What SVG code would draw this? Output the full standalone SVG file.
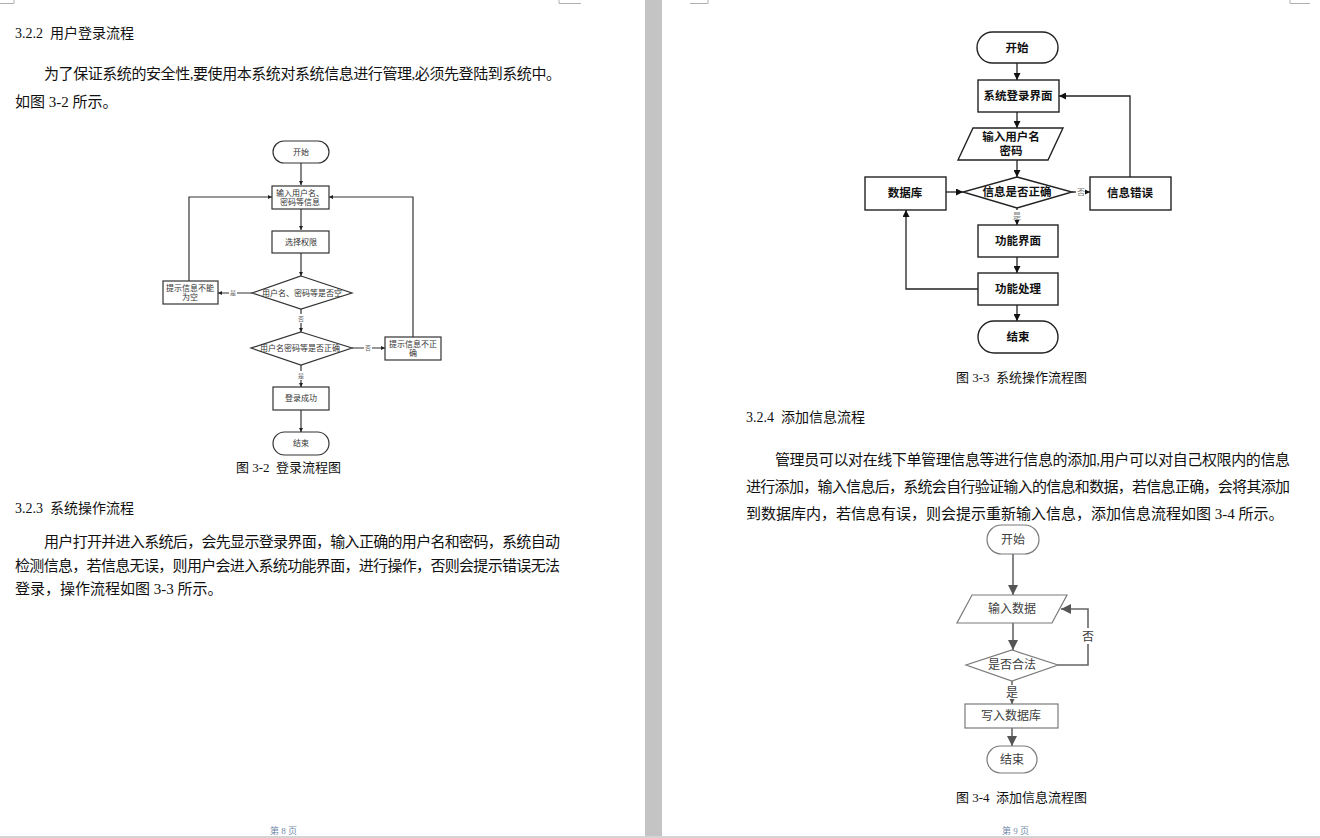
<svg xmlns="http://www.w3.org/2000/svg" width="1320" height="838" viewBox="0 0 1320 838">
<style>
text{font-family:"Liberation Serif","Noto Sans CJK SC",serif;}
.body{font-size:15px;fill:#111;}
.h{font-size:14px;fill:#111;}
.cap{font-size:13px;fill:#111;}
.a{fill:#fff;stroke:#333;stroke-width:1.2;}
.at{font-size:8px;fill:#333;text-anchor:middle;}
.al{font-size:6px;fill:#666;text-anchor:middle;}
.b{fill:#fff;stroke:#222;stroke-width:1.4;}
.bt{font-size:11.5px;font-weight:bold;fill:#111;text-anchor:middle;}
.bl{font-size:8px;fill:#777;text-anchor:middle;}
.c{fill:#fff;stroke:#7a7a7a;stroke-width:1.2;}
.ct{font-size:12px;fill:#404040;text-anchor:middle;}
.ca{fill:none;stroke:#333;stroke-width:1.2;}
.cb{fill:none;stroke:#222;stroke-width:1.3;}
.cc{fill:none;stroke:#666;stroke-width:1.6;}
.pn{font-size:9px;fill:#7088a8;}
</style>
<defs>
<marker id="ma" viewBox="0 0 10 10" refX="10" refY="5" markerWidth="4" markerHeight="4" markerUnits="userSpaceOnUse" orient="auto"><path d="M0,0L10,5L0,10z" fill="#222"/></marker>
<marker id="mb" viewBox="0 0 10 10" refX="10" refY="5" markerWidth="7" markerHeight="7" markerUnits="userSpaceOnUse" orient="auto"><path d="M0,0L10,5L0,10z" fill="#111"/></marker>
<marker id="mc" viewBox="0 0 10 10" refX="10" refY="5" markerWidth="10" markerHeight="10" markerUnits="userSpaceOnUse" orient="auto"><path d="M0,0L10,5L0,10z" fill="#555"/></marker>
</defs>
<rect x="0" y="0" width="1320" height="838" fill="#fff"/>
<rect x="645" y="0" width="17" height="838" fill="#c4c4c4"/>
<g id="corner-marks" stroke="#b0b0b0" stroke-width="1" fill="none">
<path d="M0,3.5H14V0"/>
<path d="M559,0V3.5H581"/>
<path d="M690,3.5H708V0"/>
<path d="M1290,0V3.5H1310"/>
</g>
<g id="left-text">
<text class="h" x="15" y="38" xml:space="preserve">3.2.2  用户登录流程</text>
<text class="body" x="44" y="79" textLength="517" lengthAdjust="spacing">为了保证系统的安全性,要使用本系统对系统信息进行管理,必须先登陆到系统中。</text>
<text class="body" x="15" y="107">如图 3-2 所示。</text>
<text class="cap" x="236" y="472" xml:space="preserve">图 3-2  登录流程图</text>
<text class="h" x="15" y="513" xml:space="preserve">3.2.3  系统操作流程</text>
<text class="body" x="44" y="547" textLength="516" lengthAdjust="spacing">用户打开并进入系统后，会先显示登录界面，输入正确的用户名和密码，系统自动</text>
<text class="body" x="15" y="571" textLength="545" lengthAdjust="spacing">检测信息，若信息无误，则用户会进入系统功能界面，进行操作，否则会提示错误无法</text>
<text class="body" x="15" y="594">登录，操作流程如图 3-3 所示。</text>
</g>
<g id="right-text">
<text class="cap" x="956" y="382" xml:space="preserve">图 3-3  系统操作流程图</text>
<text class="h" x="746" y="422" xml:space="preserve">3.2.4  添加信息流程</text>
<text class="body" x="775" y="465" textLength="515" lengthAdjust="spacing">管理员可以对在线下单管理信息等进行信息的添加,用户可以对自己权限内的信息</text>
<text class="body" x="746" y="492" textLength="544" lengthAdjust="spacing">进行添加，输入信息后，系统会自行验证输入的信息和数据，若信息正确，会将其添加</text>
<text class="body" x="746" y="519">到数据库内，若信息有误，则会提示重新输入信息，添加信息流程如图 3-4 所示。</text>
<text class="cap" x="956" y="802" xml:space="preserve">图 3-4  添加信息流程图</text>
</g>
<g id="connectors">
<path class="ca" d="M301,163V185" marker-end="url(#ma)"/>
<path class="ca" d="M301,209V230" marker-end="url(#ma)"/>
<path class="ca" d="M301,253V276" marker-end="url(#ma)"/>
<path class="ca" d="M252,293H218" marker-end="url(#ma)"/>
<path class="ca" d="M301,309V332" marker-end="url(#ma)"/>
<path class="ca" d="M352,348H385" marker-end="url(#ma)"/>
<path class="ca" d="M301,365V387" marker-end="url(#ma)"/>
<path class="ca" d="M301,410V432" marker-end="url(#ma)"/>
<path class="ca" d="M189,281V197H272" marker-end="url(#ma)"/>
<path class="ca" d="M413,337V197H329" marker-end="url(#ma)"/>
<path class="cb" d="M1017,63V80" marker-end="url(#mb)"/>
<path class="cb" d="M1017,112V128" marker-end="url(#mb)"/>
<path class="cb" d="M1017,160V177" marker-end="url(#mb)"/>
<path class="cb" d="M946,192H963" marker-end="url(#mb)"/>
<path class="cb" d="M1072,192H1090" marker-end="url(#mb)"/>
<path class="cb" d="M1130,177V96H1059" marker-end="url(#mb)"/>
<path class="cb" d="M1017,208V225" marker-end="url(#mb)"/>
<path class="cb" d="M1017,257V273" marker-end="url(#mb)"/>
<path class="cb" d="M1017,305V321" marker-end="url(#mb)"/>
<path class="cb" d="M978,289H906V210" marker-end="url(#mb)"/>
<path class="cc" d="M1013,553V595" marker-end="url(#mc)"/>
<path class="cc" d="M1013,623V650" marker-end="url(#mc)"/>
<path class="cc" d="M1058,665H1088V609H1061" marker-end="url(#mc)"/>
<path class="cc" d="M1012,681V704" marker-end="url(#mc)"/>
<path class="cc" d="M1012,728V746" marker-end="url(#mc)"/>
<g id="edge-labels">
<rect x="229" y="288" width="8" height="9" fill="#fff"/><text class="al" x="233" y="295">是</text>
<rect x="297" y="314" width="8" height="9" fill="#fff"/><text class="al" x="301" y="321">否</text>
<rect x="364" y="343" width="8" height="9" fill="#fff"/><text class="al" x="368" y="350">否</text>
<rect x="297" y="371" width="8" height="9" fill="#fff"/><text class="al" x="301" y="378">是</text>
<rect x="1076" y="187" width="9" height="10" fill="#fff"/><text class="bl" x="1081" y="195">否</text>
<rect x="1012" y="210" width="10" height="10" fill="#fff"/><text class="bl" x="1017" y="219">是</text>
<rect x="1081" y="628" width="14" height="16" fill="#fff"/><text class="ct" x="1088" y="641">否</text>
<rect x="1005" y="685" width="14" height="14" fill="#fff"/><text class="ct" x="1012" y="697">是</text>
</g>
</g>
<g id="f32-start"><rect class="a" x="273" y="141" width="56" height="22" rx="11"/><text class="at" x="301" y="155">开始</text></g>
<g id="f32-input"><rect class="a" x="272" y="186" width="57" height="23"/><text class="at" x="300" y="196">输入用户名、</text><text class="at" x="300" y="205">密码等信息</text></g>
<g id="f32-role"><rect class="a" x="272" y="231" width="57" height="22"/><text class="at" x="301" y="245">选择权限</text></g>
<g id="f32-empty"><path class="a" d="M301,276L352,293L301,309L252,293z"/><text class="at" x="302" y="296">用户名、密码等是否空</text></g>
<g id="f32-correct"><path class="a" d="M301,332L352,348L301,365L251,348z"/><text class="at" x="300" y="351">用户名密码等是否正确</text></g>
<g id="f32-msg-empty"><rect class="a" x="163" y="281" width="55" height="23"/><text class="at" x="190" y="291">提示信息不能</text><text class="at" x="190" y="300">为空</text></g>
<g id="f32-msg-wrong"><rect class="a" x="385" y="337" width="56" height="23"/><text class="at" x="413" y="347">提示信息不正</text><text class="at" x="413" y="356">确</text></g>
<g id="f32-ok"><rect class="a" x="273" y="387" width="56" height="23"/><text class="at" x="301" y="401">登录成功</text></g>
<g id="f32-end"><rect class="a" x="273" y="432" width="56" height="23" rx="11.5"/><text class="at" x="301" y="446">结束</text></g>
<g id="f33-start"><rect class="b" x="977" y="32" width="81" height="31" rx="15.5"/><text class="bt" x="1017" y="52">开始</text></g>
<g id="f33-login"><rect class="b" x="978" y="80" width="81" height="32"/><text class="bt" x="1018" y="100">系统登录界面</text></g>
<g id="f33-input"><path class="b" d="M973,128H1063L1048,160H958z"/><text class="bt" x="1011" y="141">输入用户名</text><text class="bt" x="1011" y="155">密码</text></g>
<g id="f33-check"><path class="b" d="M1017,177L1072,192L1017,208L963,192z"/><text class="bt" x="1017" y="196">信息是否正确</text></g>
<g id="f33-db"><rect class="b" x="865" y="177" width="81" height="33"/><text class="bt" x="905" y="197">数据库</text></g>
<g id="f33-error"><rect class="b" x="1090" y="177" width="81" height="33"/><text class="bt" x="1130" y="197">信息错误</text></g>
<g id="f33-func"><rect class="b" x="978" y="225" width="80" height="32"/><text class="bt" x="1018" y="245">功能界面</text></g>
<g id="f33-proc"><rect class="b" x="978" y="273" width="80" height="32"/><text class="bt" x="1018" y="293">功能处理</text></g>
<g id="f33-end"><rect class="b" x="978" y="321" width="80" height="32" rx="16"/><text class="bt" x="1018" y="341">结束</text></g>
<g id="f34-start"><rect class="c" x="987" y="525" width="52" height="29" rx="14.5"/><text class="ct" x="1013" y="544">开始</text></g>
<g id="f34-input"><path class="c" d="M972,595H1067L1052,623H957z"/><text class="ct" x="1012" y="613">输入数据</text></g>
<g id="f34-valid"><path class="c" d="M1012,650L1058,665L1012,681L966,665z"/><text class="ct" x="1012" y="669">是否合法</text></g>
<g id="f34-write"><rect class="c" x="965" y="704" width="93" height="24"/><text class="ct" x="1011" y="720">写入数据库</text></g>
<g id="f34-end"><rect class="c" x="987" y="746" width="50" height="27" rx="13.5"/><text class="ct" x="1012" y="764">结束</text></g>
<g id="footers">
<text class="pn" x="270" y="834">第 8 页</text>
<text class="pn" x="1002" y="834">第 9 页</text>
</g>
<rect x="0" y="836" width="1320" height="2" fill="#d4d4d4"/>
</svg>
